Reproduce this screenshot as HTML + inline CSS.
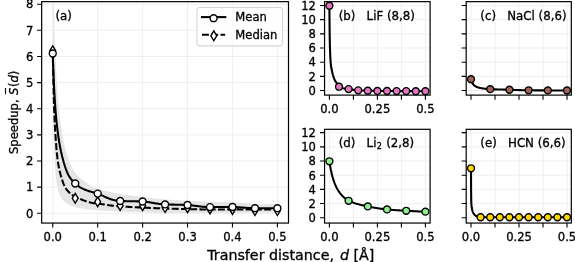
<!DOCTYPE html>
<html><head><meta charset="utf-8"><title>Speedup vs transfer distance</title>
<style>html,body{margin:0;padding:0;background:#fff}svg{display:block}</style></head>
<body>
<svg width="575" height="262" viewBox="0 0 575 262" font-family="'DejaVu Sans', 'Liberation Sans', sans-serif" fill="#000" stroke="none">
<style>text{stroke:#000;stroke-width:0.3px;paint-order:stroke}</style>
<rect width="575" height="262" fill="#fff"/>
<clipPath id="ca"><rect x="41.65" y="1.65" width="246.85" height="221.40"/></clipPath>
<g clip-path="url(#ca)">
<path d="M52.75 -48.10 L53.13 -25.98 L53.51 -7.31 L53.89 8.66 L54.27 22.47 L54.65 34.53 L55.03 45.16 L55.42 54.60 L55.80 63.03 L56.18 70.62 L56.56 77.47 L56.94 83.70 L57.32 89.38 L57.70 94.58 L58.08 99.36 L58.46 103.78 L58.84 107.86 L59.22 111.65 L59.60 115.18 L59.98 118.47 L60.37 121.55 L60.75 124.43 L61.13 127.14 L61.51 129.69 L61.89 132.09 L62.27 134.35 L62.65 136.50 L63.03 138.53 L63.41 140.46 L63.79 142.29 L64.17 144.03 L64.55 145.68 L64.93 147.26 L65.32 148.77 L65.70 150.21 L66.08 151.59 L66.46 152.90 L66.84 154.17 L67.22 155.38 L67.60 156.54 L67.98 157.66 L68.36 158.73 L68.74 159.76 L69.12 160.76 L69.50 161.72 L69.88 162.64 L70.27 163.53 L70.65 164.39 L71.03 165.23 L71.41 166.03 L71.79 166.81 L72.17 167.56 L72.55 168.29 L72.93 168.99 L73.31 169.68 L73.69 170.34 L74.07 170.98 L74.45 171.61 L74.83 172.21 L75.22 172.80 L76.90 174.60 L78.58 176.30 L80.27 177.90 L81.95 179.39 L83.64 180.78 L85.32 182.07 L87.01 183.27 L88.69 184.37 L90.38 185.38 L92.06 186.29 L93.75 187.12 L95.43 187.85 L97.12 188.50 L98.80 189.08 L100.49 189.60 L102.17 190.09 L103.86 190.54 L105.54 190.95 L107.23 191.34 L108.91 191.71 L110.60 192.05 L112.28 192.37 L113.97 192.69 L115.65 192.99 L117.34 193.30 L119.02 193.60 L120.71 193.90 L122.39 194.20 L124.08 194.49 L125.76 194.78 L127.45 195.06 L129.13 195.33 L130.82 195.59 L132.50 195.84 L134.19 196.09 L135.87 196.33 L137.56 196.56 L139.24 196.78 L140.93 197.00 L142.61 197.20 L144.29 197.40 L145.98 197.59 L147.66 197.78 L149.35 197.96 L151.03 198.14 L152.72 198.32 L154.40 198.48 L156.09 198.65 L157.77 198.80 L159.46 198.95 L161.14 199.09 L162.83 199.23 L164.51 199.36 L166.20 199.48 L167.88 199.60 L169.57 199.71 L171.25 199.81 L172.94 199.91 L174.62 200.01 L176.31 200.11 L177.99 200.20 L179.68 200.29 L181.36 200.38 L183.05 200.46 L184.73 200.55 L186.42 200.64 L188.10 200.73 L189.79 200.82 L191.47 200.91 L193.16 201.00 L194.84 201.09 L196.53 201.18 L198.21 201.26 L199.90 201.35 L201.58 201.43 L203.27 201.51 L204.95 201.59 L206.64 201.66 L208.32 201.73 L210.01 201.80 L211.69 201.86 L213.37 201.92 L215.06 201.97 L216.74 202.03 L218.43 202.07 L220.11 202.12 L221.80 202.17 L223.48 202.22 L225.17 202.27 L226.85 202.31 L228.54 202.37 L230.22 202.42 L231.91 202.48 L233.59 202.54 L235.28 202.61 L236.96 202.68 L238.65 202.76 L240.33 202.83 L242.02 202.91 L243.70 202.99 L245.39 203.07 L247.07 203.15 L248.76 203.23 L250.44 203.31 L252.13 203.38 L253.81 203.45 L255.50 203.52 L257.18 203.59 L258.87 203.65 L260.55 203.72 L262.24 203.78 L263.92 203.84 L265.61 203.90 L267.29 203.96 L268.98 204.02 L270.66 204.08 L272.35 204.14 L274.03 204.19 L275.72 204.25 L277.40 204.30 L277.40 212.60 L275.72 212.62 L274.03 212.63 L272.35 212.65 L270.66 212.66 L268.98 212.68 L267.29 212.69 L265.61 212.71 L263.92 212.72 L262.24 212.74 L260.55 212.75 L258.87 212.77 L257.18 212.78 L255.50 212.80 L253.81 212.81 L252.13 212.83 L250.44 212.84 L248.76 212.86 L247.07 212.87 L245.39 212.89 L243.70 212.90 L242.02 212.92 L240.33 212.93 L238.65 212.95 L236.96 212.96 L235.28 212.98 L233.59 212.99 L231.91 213.01 L230.22 213.02 L228.54 213.04 L226.85 213.06 L225.17 213.08 L223.48 213.10 L221.80 213.12 L220.11 213.13 L218.43 213.15 L216.74 213.17 L215.06 213.18 L213.37 213.19 L211.69 213.19 L210.01 213.20 L208.32 213.20 L206.64 213.20 L204.95 213.20 L203.27 213.20 L201.58 213.20 L199.90 213.20 L198.21 213.20 L196.53 213.20 L194.84 213.20 L193.16 213.20 L191.47 213.20 L189.79 213.20 L188.10 213.20 L186.42 213.19 L184.73 213.19 L183.05 213.18 L181.36 213.18 L179.68 213.16 L177.99 213.15 L176.31 213.14 L174.62 213.12 L172.94 213.10 L171.25 213.08 L169.57 213.06 L167.88 213.04 L166.20 213.02 L164.51 212.99 L162.83 212.96 L161.14 212.92 L159.46 212.88 L157.77 212.83 L156.09 212.78 L154.40 212.72 L152.72 212.66 L151.03 212.60 L149.35 212.53 L147.66 212.47 L145.98 212.41 L144.29 212.35 L142.61 212.30 L140.93 212.25 L139.24 212.20 L137.56 212.15 L135.87 212.10 L134.19 212.06 L132.50 212.01 L130.82 211.96 L129.13 211.91 L127.45 211.86 L125.76 211.80 L124.08 211.75 L122.39 211.69 L120.71 211.62 L119.02 211.55 L117.34 211.48 L115.65 211.41 L113.97 211.33 L112.28 211.25 L110.60 211.16 L108.91 211.07 L107.23 210.97 L105.54 210.87 L103.86 210.76 L102.17 210.64 L100.49 210.52 L98.80 210.39 L97.12 210.25 L95.43 210.10 L93.75 209.94 L92.06 209.76 L90.38 209.56 L88.69 209.35 L87.01 209.13 L85.32 208.89 L83.64 208.63 L81.95 208.36 L80.27 208.07 L78.58 207.76 L76.90 207.44 L75.22 207.10 L74.83 207.00 L74.45 206.89 L74.07 206.78 L73.69 206.67 L73.31 206.55 L72.93 206.43 L72.55 206.30 L72.17 206.17 L71.79 206.04 L71.41 205.89 L71.03 205.75 L70.65 205.59 L70.27 205.44 L69.88 205.27 L69.50 205.10 L69.12 204.92 L68.74 204.73 L68.36 204.53 L67.98 204.32 L67.60 204.11 L67.22 203.88 L66.84 203.64 L66.46 203.39 L66.08 203.12 L65.70 202.85 L65.32 202.55 L64.93 202.24 L64.55 201.91 L64.17 201.56 L63.79 201.18 L63.41 200.78 L63.03 200.36 L62.65 199.90 L62.27 199.41 L61.89 198.89 L61.51 198.32 L61.13 197.71 L60.75 197.04 L60.37 196.32 L59.98 195.53 L59.60 194.66 L59.22 193.70 L58.84 192.63 L58.46 191.45 L58.08 190.12 L57.70 188.61 L57.32 186.90 L56.94 184.94 L56.56 182.66 L56.18 179.97 L55.80 176.78 L55.42 172.91 L55.03 168.11 L54.65 162.03 L54.27 154.05 L53.89 143.14 L53.51 127.30 L53.13 102.21 L52.75 56.46 Z" fill="#e5e5e5" stroke="none"/>
<path d="M52.75 1.65 V223.05 M97.68 1.65 V223.05 M142.61 1.65 V223.05 M187.54 1.65 V223.05 M232.47 1.65 V223.05 M277.40 1.65 V223.05 M41.65 213.30 H288.5 M41.65 187.16 H288.5 M41.65 161.02 H288.5 M41.65 134.88 H288.5 M41.65 108.74 H288.5 M41.65 82.60 H288.5 M41.65 56.46 H288.5 M41.65 30.32 H288.5 M41.65 4.18 H288.5"  stroke="#efefef" stroke-width="1.0" fill="none"/>
<path d="M52.75 50.75 L52.89 58.22 L53.02 65.16 L53.16 71.63 L53.29 77.67 L53.43 83.32 L53.56 88.61 L53.70 93.60 L53.83 98.37 L53.97 102.88 L54.10 107.11 L54.24 111.04 L54.38 114.66 L54.51 117.98 L54.65 121.01 L54.78 123.77 L54.92 126.33 L55.05 128.72 L55.19 130.97 L55.32 133.10 L55.46 135.15 L55.59 137.12 L55.73 139.03 L55.87 140.90 L56.00 142.72 L56.14 144.49 L56.27 146.20 L56.41 147.84 L56.54 149.43 L56.68 150.95 L56.81 152.40 L56.95 153.78 L57.08 155.10 L57.22 156.36 L57.36 157.54 L57.49 158.67 L57.63 159.73 L57.76 160.73 L57.90 161.68 L58.03 162.57 L58.17 163.42 L58.30 164.24 L58.44 165.02 L58.58 165.77 L58.71 166.48 L58.85 167.17 L58.98 167.84 L59.12 168.49 L59.25 169.11 L59.39 169.72 L59.52 170.31 L59.66 170.88 L59.79 171.44 L59.93 171.99 L60.07 172.53 L60.20 173.05 L60.34 173.57 L60.47 174.08 L60.61 174.58 L60.74 175.08 L60.88 175.56 L61.01 176.05 L61.15 176.53 L61.28 177.00 L61.42 177.46 L61.56 177.92 L61.69 178.37 L61.83 178.82 L61.96 179.25 L62.10 179.68 L62.23 180.10 L62.37 180.52 L62.50 180.92 L62.64 181.32 L62.77 181.71 L62.91 182.09 L63.05 182.46 L63.18 182.82 L63.32 183.18 L63.45 183.53 L63.59 183.87 L63.72 184.20 L63.86 184.52 L63.99 184.83 L64.13 185.14 L64.26 185.44 L64.40 185.73 L64.54 186.02 L64.67 186.29 L64.81 186.56 L64.94 186.82 L65.08 187.07 L65.21 187.32 L65.35 187.56 L65.48 187.79 L65.62 188.01 L65.75 188.23 L65.89 188.44 L66.03 188.65 L66.16 188.85 L66.30 189.04 L66.43 189.24 L66.57 189.42 L66.70 189.61 L66.84 189.79 L66.97 189.96 L67.11 190.14 L67.25 190.31 L67.38 190.47 L67.52 190.64 L67.65 190.80 L67.79 190.95 L67.92 191.11 L68.06 191.26 L68.19 191.41 L68.33 191.55 L68.46 191.70 L68.60 191.84 L68.74 191.98 L68.87 192.11 L69.01 192.25 L69.14 192.38 L69.28 192.51 L69.41 192.64 L69.55 192.77 L69.68 192.89 L69.82 193.01 L69.95 193.13 L70.09 193.25 L70.23 193.37 L70.36 193.49 L70.50 193.60 L70.63 193.72 L70.77 193.83 L70.90 193.94 L71.04 194.05 L71.17 194.16 L71.31 194.27 L71.44 194.37 L71.58 194.47 L71.72 194.58 L71.85 194.68 L71.99 194.78 L72.12 194.88 L72.26 194.97 L72.39 195.07 L72.53 195.16 L72.66 195.26 L72.80 195.35 L72.93 195.44 L73.07 195.53 L73.21 195.62 L73.34 195.70 L73.48 195.79 L73.61 195.88 L73.75 195.96 L73.88 196.04 L74.02 196.12 L74.15 196.21 L74.29 196.29 L74.42 196.36 L74.56 196.44 L74.70 196.52 L74.83 196.60 L74.97 196.67 L75.10 196.75 L75.24 196.82 L75.37 196.89 L75.51 196.96 L75.64 197.03 L75.78 197.10 L75.91 197.17 L76.05 197.24 L76.19 197.31 L76.32 197.37 L76.46 197.44 L76.59 197.50 L76.73 197.56 L76.86 197.62 L77.00 197.69 L77.13 197.75 L77.27 197.81 L77.41 197.87 L77.54 197.93 L77.68 197.98 L77.81 198.04 L77.95 198.10 L78.08 198.16 L78.22 198.21 L78.35 198.27 L78.49 198.32 L78.62 198.38 L78.76 198.44 L78.90 198.49 L79.03 198.54 L79.17 198.60 L79.30 198.65 L79.44 198.71 L79.57 198.76 L79.71 198.81 L80.20 199.01 L80.70 199.20 L81.19 199.39 L81.69 199.58 L82.19 199.77 L82.68 199.97 L83.18 200.16 L83.67 200.35 L84.17 200.55 L84.66 200.73 L85.16 200.92 L85.65 201.10 L86.15 201.27 L86.64 201.44 L87.14 201.61 L87.64 201.76 L88.13 201.91 L88.63 202.06 L89.12 202.20 L89.62 202.35 L90.11 202.49 L90.61 202.62 L91.10 202.74 L91.60 202.85 L92.09 202.95 L92.59 203.03 L93.09 203.10 L93.58 203.16 L94.08 203.22 L94.57 203.27 L95.07 203.32 L95.56 203.37 L96.06 203.42 L96.55 203.47 L97.05 203.52 L97.54 203.58 L98.04 203.64 L98.54 203.71 L99.03 203.77 L99.53 203.83 L100.02 203.90 L100.52 203.97 L101.01 204.04 L101.51 204.10 L102.00 204.17 L102.50 204.24 L103.00 204.31 L103.49 204.38 L103.99 204.46 L104.48 204.53 L104.98 204.61 L105.47 204.69 L105.97 204.77 L106.46 204.86 L106.96 204.94 L107.45 205.02 L107.95 205.10 L108.45 205.17 L108.94 205.25 L109.44 205.32 L109.93 205.38 L110.43 205.44 L110.92 205.50 L111.42 205.56 L111.91 205.61 L112.41 205.66 L112.90 205.71 L113.40 205.76 L113.90 205.80 L114.39 205.85 L114.89 205.89 L115.38 205.93 L115.88 205.97 L116.37 206.01 L116.87 206.05 L117.36 206.09 L117.86 206.13 L118.35 206.17 L118.85 206.21 L119.35 206.24 L119.84 206.28 L120.34 206.32 L120.83 206.35 L121.33 206.39 L121.82 206.43 L122.32 206.46 L122.81 206.50 L123.31 206.53 L123.80 206.56 L124.30 206.60 L124.80 206.63 L125.29 206.66 L125.79 206.69 L126.28 206.72 L126.78 206.76 L127.27 206.79 L127.77 206.82 L128.26 206.85 L128.76 206.88 L129.25 206.91 L129.75 206.93 L130.25 206.96 L130.74 206.99 L131.24 207.02 L131.73 207.05 L132.23 207.08 L132.72 207.10 L133.22 207.13 L133.71 207.16 L134.21 207.18 L134.71 207.21 L135.20 207.24 L135.70 207.26 L136.19 207.29 L136.69 207.31 L137.18 207.34 L137.68 207.36 L138.17 207.39 L138.67 207.41 L139.16 207.44 L139.66 207.46 L140.16 207.48 L140.65 207.51 L141.15 207.53 L141.64 207.55 L142.14 207.58 L142.63 207.60 L143.13 207.62 L143.62 207.65 L144.12 207.67 L144.61 207.69 L145.11 207.72 L145.61 207.74 L146.10 207.76 L146.60 207.78 L147.09 207.81 L147.59 207.83 L148.08 207.85 L148.58 207.87 L149.07 207.89 L149.57 207.91 L150.06 207.94 L150.56 207.96 L151.06 207.98 L151.55 208.00 L152.05 208.02 L152.54 208.04 L153.04 208.06 L153.53 208.08 L154.03 208.10 L154.52 208.12 L155.02 208.14 L155.51 208.16 L156.01 208.18 L156.51 208.20 L157.00 208.22 L157.50 208.23 L157.99 208.25 L158.49 208.27 L158.98 208.29 L159.48 208.31 L159.97 208.33 L160.47 208.34 L160.96 208.36 L161.46 208.38 L161.96 208.40 L162.45 208.41 L162.95 208.43 L163.44 208.45 L163.94 208.46 L164.43 208.48 L164.93 208.49 L165.42 208.51 L165.92 208.53 L166.42 208.54 L166.91 208.56 L167.41 208.57 L167.90 208.59 L168.40 208.60 L168.89 208.62 L169.39 208.63 L169.88 208.65 L170.38 208.66 L170.87 208.68 L171.37 208.69 L171.87 208.71 L172.36 208.72 L172.86 208.73 L173.35 208.75 L173.85 208.76 L174.34 208.78 L174.84 208.79 L175.33 208.80 L175.83 208.82 L176.32 208.83 L176.82 208.84 L177.32 208.86 L177.81 208.87 L178.31 208.88 L178.80 208.90 L179.30 208.91 L179.79 208.92 L180.29 208.93 L180.78 208.95 L181.28 208.96 L181.77 208.97 L182.27 208.98 L182.77 208.99 L183.26 209.01 L183.76 209.02 L184.25 209.03 L184.75 209.04 L185.24 209.05 L185.74 209.06 L186.23 209.07 L186.73 209.08 L187.22 209.09 L187.72 209.10 L188.22 209.12 L188.71 209.13 L189.21 209.14 L189.70 209.15 L190.20 209.16 L190.69 209.17 L191.19 209.19 L191.68 209.20 L192.18 209.21 L192.67 209.22 L193.17 209.23 L193.67 209.25 L194.16 209.26 L194.66 209.27 L195.15 209.28 L195.65 209.29 L196.14 209.31 L196.64 209.32 L197.13 209.33 L197.63 209.34 L198.13 209.35 L198.62 209.36 L199.12 209.37 L199.61 209.38 L200.11 209.39 L200.60 209.40 L201.10 209.41 L201.59 209.42 L202.09 209.43 L202.58 209.44 L203.08 209.44 L203.58 209.45 L204.07 209.46 L204.57 209.46 L205.06 209.47 L205.56 209.48 L206.05 209.48 L206.55 209.48 L207.04 209.49 L207.54 209.49 L208.03 209.49 L208.53 209.50 L209.03 209.50 L209.52 209.50 L210.02 209.50 L210.51 209.50 L211.01 209.50 L211.50 209.50 L212.00 209.50 L212.49 209.50 L212.99 209.50 L213.48 209.49 L213.98 209.49 L214.48 209.49 L214.97 209.49 L215.47 209.49 L215.96 209.48 L216.46 209.48 L216.95 209.48 L217.45 209.47 L217.94 209.47 L218.44 209.47 L218.93 209.47 L219.43 209.46 L219.93 209.46 L220.42 209.46 L220.92 209.45 L221.41 209.45 L221.91 209.45 L222.40 209.44 L222.90 209.44 L223.39 209.44 L223.89 209.43 L224.38 209.43 L224.88 209.43 L225.38 209.42 L225.87 209.42 L226.37 209.42 L226.86 209.42 L227.36 209.41 L227.85 209.41 L228.35 209.41 L228.84 209.41 L229.34 209.41 L229.84 209.40 L230.33 209.40 L230.83 209.40 L231.32 209.40 L231.82 209.40 L232.31 209.40 L232.81 209.40 L233.30 209.40 L233.80 209.40 L234.29 209.40 L234.79 209.40 L235.29 209.40 L235.78 209.40 L236.28 209.41 L236.77 209.41 L237.27 209.41 L237.76 209.41 L238.26 209.41 L238.75 209.41 L239.25 209.42 L239.74 209.42 L240.24 209.42 L240.74 209.42 L241.23 209.42 L241.73 209.43 L242.22 209.43 L242.72 209.43 L243.21 209.44 L243.71 209.44 L244.20 209.44 L244.70 209.44 L245.19 209.45 L245.69 209.45 L246.19 209.45 L246.68 209.46 L247.18 209.46 L247.67 209.46 L248.17 209.46 L248.66 209.47 L249.16 209.47 L249.65 209.47 L250.15 209.48 L250.64 209.48 L251.14 209.48 L251.64 209.48 L252.13 209.49 L252.63 209.49 L253.12 209.49 L253.62 209.49 L254.11 209.50 L254.61 209.50 L255.10 209.50 L255.60 209.50 L256.09 209.51 L256.59 209.51 L257.09 209.51 L257.58 209.51 L258.08 209.51 L258.57 209.52 L259.07 209.52 L259.56 209.52 L260.06 209.52 L260.55 209.53 L261.05 209.53 L261.55 209.53 L262.04 209.53 L262.54 209.53 L263.03 209.54 L263.53 209.54 L264.02 209.54 L264.52 209.54 L265.01 209.55 L265.51 209.55 L266.00 209.55 L266.50 209.55 L267.00 209.55 L267.49 209.56 L267.99 209.56 L268.48 209.56 L268.98 209.56 L269.47 209.56 L269.97 209.57 L270.46 209.57 L270.96 209.57 L271.45 209.57 L271.95 209.58 L272.45 209.58 L272.94 209.58 L273.44 209.58 L273.93 209.58 L274.43 209.59 L274.92 209.59 L275.42 209.59 L275.91 209.59 L276.41 209.60 L276.90 209.60 L277.40 209.60" fill="none" stroke="#000" stroke-width="2.08" stroke-dasharray="6.9 2.35"/>
<path d="M52.75 53.50 L52.89 57.88 L53.02 62.01 L53.16 65.91 L53.29 69.60 L53.43 73.10 L53.56 76.41 L53.70 79.55 L53.83 82.54 L53.97 85.37 L54.10 88.08 L54.24 90.66 L54.38 93.12 L54.51 95.48 L54.65 97.74 L54.78 99.90 L54.92 101.98 L55.05 103.98 L55.19 105.90 L55.32 107.74 L55.46 109.52 L55.59 111.23 L55.73 112.88 L55.87 114.48 L56.00 116.01 L56.14 117.49 L56.27 118.92 L56.41 120.29 L56.54 121.61 L56.68 122.90 L56.81 124.14 L56.95 125.35 L57.08 126.54 L57.22 127.69 L57.36 128.82 L57.49 129.93 L57.63 131.02 L57.76 132.08 L57.90 133.12 L58.03 134.13 L58.17 135.12 L58.30 136.09 L58.44 137.03 L58.58 137.96 L58.71 138.86 L58.85 139.75 L58.98 140.61 L59.12 141.46 L59.25 142.29 L59.39 143.09 L59.52 143.89 L59.66 144.66 L59.79 145.42 L59.93 146.16 L60.07 146.89 L60.20 147.60 L60.34 148.29 L60.47 148.96 L60.61 149.63 L60.74 150.28 L60.88 150.91 L61.01 151.54 L61.15 152.15 L61.28 152.75 L61.42 153.34 L61.56 153.92 L61.69 154.49 L61.83 155.05 L61.96 155.60 L62.10 156.14 L62.23 156.68 L62.37 157.20 L62.50 157.72 L62.64 158.24 L62.77 158.74 L62.91 159.24 L63.05 159.74 L63.18 160.22 L63.32 160.71 L63.45 161.18 L63.59 161.66 L63.72 162.13 L63.86 162.59 L63.99 163.06 L64.13 163.51 L64.26 163.97 L64.40 164.42 L64.54 164.86 L64.67 165.30 L64.81 165.73 L64.94 166.16 L65.08 166.58 L65.21 167.00 L65.35 167.41 L65.48 167.82 L65.62 168.21 L65.75 168.60 L65.89 168.99 L66.03 169.37 L66.16 169.74 L66.30 170.11 L66.43 170.46 L66.57 170.82 L66.70 171.16 L66.84 171.50 L66.97 171.83 L67.11 172.16 L67.25 172.48 L67.38 172.79 L67.52 173.09 L67.65 173.39 L67.79 173.68 L67.92 173.97 L68.06 174.25 L68.19 174.52 L68.33 174.78 L68.46 175.04 L68.60 175.29 L68.74 175.54 L68.87 175.78 L69.01 176.01 L69.14 176.24 L69.28 176.46 L69.41 176.68 L69.55 176.89 L69.68 177.10 L69.82 177.31 L69.95 177.51 L70.09 177.71 L70.23 177.91 L70.36 178.10 L70.50 178.29 L70.63 178.48 L70.77 178.66 L70.90 178.84 L71.04 179.02 L71.17 179.20 L71.31 179.37 L71.44 179.54 L71.58 179.71 L71.72 179.87 L71.85 180.04 L71.99 180.20 L72.12 180.36 L72.26 180.51 L72.39 180.67 L72.53 180.82 L72.66 180.97 L72.80 181.12 L72.93 181.26 L73.07 181.41 L73.21 181.55 L73.34 181.69 L73.48 181.83 L73.61 181.97 L73.75 182.11 L73.88 182.25 L74.02 182.38 L74.15 182.51 L74.29 182.65 L74.42 182.78 L74.56 182.91 L74.70 183.03 L74.83 183.16 L74.97 183.29 L75.10 183.41 L75.24 183.53 L75.37 183.66 L75.51 183.78 L75.64 183.90 L75.78 184.02 L75.91 184.14 L76.05 184.26 L76.19 184.37 L76.32 184.49 L76.46 184.60 L76.59 184.72 L76.73 184.83 L76.86 184.94 L77.00 185.05 L77.13 185.16 L77.27 185.27 L77.41 185.37 L77.54 185.48 L77.68 185.58 L77.81 185.69 L77.95 185.79 L78.08 185.89 L78.22 185.99 L78.35 186.09 L78.49 186.18 L78.62 186.28 L78.76 186.37 L78.90 186.47 L79.03 186.56 L79.17 186.65 L79.30 186.74 L79.44 186.83 L79.57 186.92 L79.71 187.01 L80.20 187.31 L80.70 187.60 L81.19 187.87 L81.69 188.14 L82.19 188.39 L82.68 188.63 L83.18 188.87 L83.67 189.09 L84.17 189.31 L84.66 189.52 L85.16 189.72 L85.65 189.92 L86.15 190.12 L86.64 190.30 L87.14 190.49 L87.64 190.67 L88.13 190.85 L88.63 191.02 L89.12 191.18 L89.62 191.33 L90.11 191.47 L90.61 191.62 L91.10 191.75 L91.60 191.89 L92.09 192.02 L92.59 192.15 L93.09 192.28 L93.58 192.41 L94.08 192.54 L94.57 192.68 L95.07 192.81 L95.56 192.95 L96.06 193.09 L96.55 193.24 L97.05 193.39 L97.54 193.55 L98.04 193.71 L98.54 193.89 L99.03 194.08 L99.53 194.29 L100.02 194.50 L100.52 194.72 L101.01 194.94 L101.51 195.17 L102.00 195.41 L102.50 195.64 L103.00 195.88 L103.49 196.11 L103.99 196.35 L104.48 196.58 L104.98 196.82 L105.47 197.05 L105.97 197.27 L106.46 197.49 L106.96 197.71 L107.45 197.92 L107.95 198.12 L108.45 198.32 L108.94 198.52 L109.44 198.71 L109.93 198.89 L110.43 199.06 L110.92 199.23 L111.42 199.39 L111.91 199.54 L112.41 199.69 L112.90 199.83 L113.40 199.96 L113.90 200.09 L114.39 200.20 L114.89 200.31 L115.38 200.42 L115.88 200.51 L116.37 200.60 L116.87 200.68 L117.36 200.75 L117.86 200.81 L118.35 200.87 L118.85 200.92 L119.35 200.96 L119.84 200.99 L120.34 201.01 L120.83 201.03 L121.33 201.05 L121.82 201.06 L122.32 201.08 L122.81 201.09 L123.31 201.11 L123.80 201.12 L124.30 201.13 L124.80 201.15 L125.29 201.16 L125.79 201.17 L126.28 201.18 L126.78 201.19 L127.27 201.20 L127.77 201.20 L128.26 201.21 L128.76 201.22 L129.25 201.23 L129.75 201.23 L130.25 201.24 L130.74 201.25 L131.24 201.25 L131.73 201.26 L132.23 201.27 L132.72 201.27 L133.22 201.28 L133.71 201.29 L134.21 201.30 L134.71 201.30 L135.20 201.31 L135.70 201.32 L136.19 201.33 L136.69 201.34 L137.18 201.35 L137.68 201.36 L138.17 201.37 L138.67 201.38 L139.16 201.39 L139.66 201.40 L140.16 201.42 L140.65 201.43 L141.15 201.45 L141.64 201.47 L142.14 201.48 L142.63 201.50 L143.13 201.52 L143.62 201.55 L144.12 201.59 L144.61 201.64 L145.11 201.69 L145.61 201.74 L146.10 201.80 L146.60 201.87 L147.09 201.93 L147.59 202.01 L148.08 202.08 L148.58 202.16 L149.07 202.24 L149.57 202.33 L150.06 202.41 L150.56 202.50 L151.06 202.58 L151.55 202.67 L152.05 202.76 L152.54 202.84 L153.04 202.93 L153.53 203.02 L154.03 203.10 L154.52 203.19 L155.02 203.27 L155.51 203.35 L156.01 203.43 L156.51 203.50 L157.00 203.58 L157.50 203.65 L157.99 203.72 L158.49 203.79 L158.98 203.86 L159.48 203.92 L159.97 203.98 L160.47 204.03 L160.96 204.09 L161.46 204.14 L161.96 204.19 L162.45 204.23 L162.95 204.27 L163.44 204.31 L163.94 204.34 L164.43 204.37 L164.93 204.39 L165.42 204.42 L165.92 204.44 L166.42 204.46 L166.91 204.47 L167.41 204.49 L167.90 204.51 L168.40 204.52 L168.89 204.54 L169.39 204.55 L169.88 204.57 L170.38 204.58 L170.87 204.59 L171.37 204.60 L171.87 204.61 L172.36 204.62 L172.86 204.63 L173.35 204.64 L173.85 204.65 L174.34 204.66 L174.84 204.67 L175.33 204.68 L175.83 204.69 L176.32 204.70 L176.82 204.71 L177.32 204.72 L177.81 204.73 L178.31 204.74 L178.80 204.75 L179.30 204.76 L179.79 204.77 L180.29 204.78 L180.78 204.79 L181.28 204.80 L181.77 204.81 L182.27 204.83 L182.77 204.84 L183.26 204.85 L183.76 204.87 L184.25 204.88 L184.75 204.90 L185.24 204.91 L185.74 204.93 L186.23 204.95 L186.73 204.97 L187.22 204.99 L187.72 205.01 L188.22 205.03 L188.71 205.07 L189.21 205.10 L189.70 205.14 L190.20 205.19 L190.69 205.24 L191.19 205.29 L191.68 205.35 L192.18 205.41 L192.67 205.47 L193.17 205.54 L193.67 205.60 L194.16 205.67 L194.66 205.73 L195.15 205.80 L195.65 205.87 L196.14 205.94 L196.64 206.01 L197.13 206.07 L197.63 206.14 L198.13 206.20 L198.62 206.27 L199.12 206.33 L199.61 206.39 L200.11 206.45 L200.60 206.51 L201.10 206.56 L201.59 206.62 L202.09 206.67 L202.58 206.72 L203.08 206.76 L203.58 206.81 L204.07 206.85 L204.57 206.88 L205.06 206.92 L205.56 206.95 L206.05 206.98 L206.55 207.01 L207.04 207.03 L207.54 207.05 L208.03 207.07 L208.53 207.08 L209.03 207.09 L209.52 207.10 L210.02 207.10 L210.51 207.10 L211.01 207.10 L211.50 207.10 L212.00 207.10 L212.49 207.10 L212.99 207.10 L213.48 207.09 L213.98 207.09 L214.48 207.09 L214.97 207.09 L215.47 207.09 L215.96 207.08 L216.46 207.08 L216.95 207.08 L217.45 207.07 L217.94 207.07 L218.44 207.07 L218.93 207.07 L219.43 207.06 L219.93 207.06 L220.42 207.06 L220.92 207.05 L221.41 207.05 L221.91 207.05 L222.40 207.04 L222.90 207.04 L223.39 207.04 L223.89 207.03 L224.38 207.03 L224.88 207.03 L225.38 207.02 L225.87 207.02 L226.37 207.02 L226.86 207.02 L227.36 207.01 L227.85 207.01 L228.35 207.01 L228.84 207.01 L229.34 207.01 L229.84 207.00 L230.33 207.00 L230.83 207.00 L231.32 207.00 L231.82 207.00 L232.31 207.00 L232.81 207.00 L233.30 207.01 L233.80 207.01 L234.29 207.03 L234.79 207.04 L235.29 207.06 L235.78 207.09 L236.28 207.11 L236.77 207.14 L237.27 207.17 L237.76 207.20 L238.26 207.24 L238.75 207.27 L239.25 207.31 L239.74 207.35 L240.24 207.38 L240.74 207.42 L241.23 207.46 L241.73 207.50 L242.22 207.54 L242.72 207.58 L243.21 207.62 L243.71 207.66 L244.20 207.70 L244.70 207.74 L245.19 207.78 L245.69 207.81 L246.19 207.85 L246.68 207.88 L247.18 207.92 L247.67 207.95 L248.17 207.98 L248.66 208.01 L249.16 208.04 L249.65 208.06 L250.15 208.08 L250.64 208.11 L251.14 208.13 L251.64 208.14 L252.13 208.16 L252.63 208.17 L253.12 208.18 L253.62 208.19 L254.11 208.20 L254.61 208.20 L255.10 208.20 L255.60 208.20 L256.09 208.20 L256.59 208.20 L257.09 208.20 L257.58 208.20 L258.08 208.20 L258.57 208.20 L259.07 208.20 L259.56 208.20 L260.06 208.20 L260.55 208.20 L261.05 208.20 L261.55 208.20 L262.04 208.20 L262.54 208.20 L263.03 208.20 L263.53 208.20 L264.02 208.20 L264.52 208.20 L265.01 208.20 L265.51 208.20 L266.00 208.20 L266.50 208.20 L267.00 208.20 L267.49 208.20 L267.99 208.20 L268.48 208.20 L268.98 208.20 L269.47 208.20 L269.97 208.20 L270.46 208.20 L270.96 208.20 L271.45 208.20 L271.95 208.20 L272.45 208.20 L272.94 208.20 L273.44 208.20 L273.93 208.20 L274.43 208.20 L274.92 208.20 L275.42 208.20 L275.91 208.20 L276.41 208.20 L276.90 208.20 L277.40 208.20" fill="none" stroke="#000" stroke-width="2.08" stroke-linecap="square"/>
<path d="M52.75 45.84 L55.70 50.75 L52.75 55.66 L49.80 50.75 Z" fill="#fff" stroke="#000" stroke-width="1.39" stroke-linejoin="miter"/>
<path d="M75.22 193.39 L78.17 198.30 L75.22 203.21 L72.27 198.30 Z" fill="#fff" stroke="#000" stroke-width="1.39" stroke-linejoin="miter"/>
<path d="M97.68 196.89 L100.63 201.80 L97.68 206.71 L94.73 201.80 Z" fill="#fff" stroke="#000" stroke-width="1.39" stroke-linejoin="miter"/>
<path d="M120.15 200.59 L123.10 205.50 L120.15 210.41 L117.20 205.50 Z" fill="#fff" stroke="#000" stroke-width="1.39" stroke-linejoin="miter"/>
<path d="M142.61 200.79 L145.56 205.70 L142.61 210.61 L139.66 205.70 Z" fill="#fff" stroke="#000" stroke-width="1.39" stroke-linejoin="miter"/>
<path d="M165.07 202.69 L168.02 207.60 L165.07 212.51 L162.12 207.60 Z" fill="#fff" stroke="#000" stroke-width="1.39" stroke-linejoin="miter"/>
<path d="M187.54 202.89 L190.49 207.80 L187.54 212.71 L184.59 207.80 Z" fill="#fff" stroke="#000" stroke-width="1.39" stroke-linejoin="miter"/>
<path d="M210.01 203.99 L212.96 208.90 L210.01 213.81 L207.06 208.90 Z" fill="#fff" stroke="#000" stroke-width="1.39" stroke-linejoin="miter"/>
<path d="M232.47 204.49 L235.42 209.40 L232.47 214.31 L229.52 209.40 Z" fill="#fff" stroke="#000" stroke-width="1.39" stroke-linejoin="miter"/>
<path d="M254.94 205.69 L257.88 210.60 L254.94 215.51 L251.99 210.60 Z" fill="#fff" stroke="#000" stroke-width="1.39" stroke-linejoin="miter"/>
<path d="M277.40 205.69 L280.35 210.60 L277.40 215.51 L274.45 210.60 Z" fill="#fff" stroke="#000" stroke-width="1.39" stroke-linejoin="miter"/>
<circle cx="52.75" cy="53.50" r="3.47" fill="#fff" stroke="#000" stroke-width="1.39"/>
<circle cx="75.22" cy="183.50" r="3.47" fill="#fff" stroke="#000" stroke-width="1.39"/>
<circle cx="97.68" cy="193.60" r="3.47" fill="#fff" stroke="#000" stroke-width="1.39"/>
<circle cx="120.15" cy="201.00" r="3.47" fill="#fff" stroke="#000" stroke-width="1.39"/>
<circle cx="142.61" cy="201.50" r="3.47" fill="#fff" stroke="#000" stroke-width="1.39"/>
<circle cx="165.07" cy="204.40" r="3.47" fill="#fff" stroke="#000" stroke-width="1.39"/>
<circle cx="187.54" cy="205.00" r="3.47" fill="#fff" stroke="#000" stroke-width="1.39"/>
<circle cx="210.01" cy="207.10" r="3.47" fill="#fff" stroke="#000" stroke-width="1.39"/>
<circle cx="232.47" cy="207.00" r="3.47" fill="#fff" stroke="#000" stroke-width="1.39"/>
<circle cx="254.94" cy="208.20" r="3.47" fill="#fff" stroke="#000" stroke-width="1.39"/>
<circle cx="277.40" cy="208.20" r="3.47" fill="#fff" stroke="#000" stroke-width="1.39"/>
</g>
<path d="M52.75 223.05 v4.55 M97.68 223.05 v4.55 M142.61 223.05 v4.55 M187.54 223.05 v4.55 M232.47 223.05 v4.55 M277.40 223.05 v4.55 M41.65 213.30 h-4.55 M41.65 187.16 h-4.55 M41.65 161.02 h-4.55 M41.65 134.88 h-4.55 M41.65 108.74 h-4.55 M41.65 82.60 h-4.55 M41.65 56.46 h-4.55 M41.65 30.32 h-4.55 M41.65 4.18 h-4.55" stroke="#000" stroke-width="1.1" fill="none"/>
<rect x="41.65" y="1.65" width="246.85" height="221.40" fill="none" stroke="#000" stroke-width="1.2"/>
<text x="33.40" y="217.60" font-size="11.57" text-anchor="end" >0</text>
<text x="33.40" y="191.46" font-size="11.57" text-anchor="end" >1</text>
<text x="33.40" y="165.32" font-size="11.57" text-anchor="end" >2</text>
<text x="33.40" y="139.18" font-size="11.57" text-anchor="end" >3</text>
<text x="33.40" y="113.04" font-size="11.57" text-anchor="end" >4</text>
<text x="33.40" y="86.90" font-size="11.57" text-anchor="end" >5</text>
<text x="33.40" y="60.76" font-size="11.57" text-anchor="end" >6</text>
<text x="33.40" y="34.62" font-size="11.57" text-anchor="end" >7</text>
<text x="33.40" y="8.48" font-size="11.57" text-anchor="end" >8</text>
<text x="52.75" y="240.60" font-size="11.57" text-anchor="middle" >0.0</text>
<text x="97.68" y="240.60" font-size="11.57" text-anchor="middle" >0.1</text>
<text x="142.61" y="240.60" font-size="11.57" text-anchor="middle" >0.2</text>
<text x="187.54" y="240.60" font-size="11.57" text-anchor="middle" >0.3</text>
<text x="232.47" y="240.60" font-size="11.57" text-anchor="middle" >0.4</text>
<text x="277.40" y="240.60" font-size="11.57" text-anchor="middle" >0.5</text>
<text x="55.50" y="19.60" font-size="11.8" text-anchor="start" >(a)</text>
<rect x="197" y="7.5" width="85.6" height="38.4" rx="2.8" fill="#fff" fill-opacity="0.8" stroke="#cccccc" stroke-opacity="0.8" stroke-width="1.1"/>
<path d="M202 17.1 H225.3" stroke="#000" stroke-width="2.08" stroke-linecap="square"/>
<circle cx="213.60" cy="18.20" r="3.47" fill="#fff" stroke="#000" stroke-width="1.39"/>
<path d="M202 34.8 H225.1" stroke="#000" stroke-width="2.08" stroke-dasharray="6.9 2.35"/>
<path d="M213.80 30.89 L216.75 35.80 L213.80 40.71 L210.85 35.80 Z" fill="#fff" stroke="#000" stroke-width="1.39" stroke-linejoin="miter"/>
<text x="235.30" y="21.10" font-size="11.57" text-anchor="start" >Mean</text>
<text x="235.30" y="38.70" font-size="11.57" text-anchor="start" >Median</text>
<text transform="translate(18.2 154.0) rotate(-90)" font-size="11.57">Speedup, <tspan font-style="italic" dx="0.7">S</tspan><tspan dx="-6.24" dy="-3.2">&#x203e;</tspan><tspan dx="1.1" dy="3.2">(</tspan><tspan font-style="italic">d</tspan>)</text>
<text x="207.2" y="259.7" font-size="14.25">Transfer distance, <tspan font-style="italic" dx="1.5">d</tspan><tspan dx="0"> [&#xC5;]</tspan></text>
<clipPath id="cb"><rect x="324.55" y="1.65" width="105.55" height="93.45"/></clipPath>
<path d="M329.40 1.65 V95.1 M353.40 1.65 V95.1 M377.40 1.65 V95.1 M401.40 1.65 V95.1 M425.40 1.65 V95.1 M324.55 90.55 H430.1 M324.55 76.37 H430.1 M324.55 62.19 H430.1 M324.55 48.01 H430.1 M324.55 33.83 H430.1 M324.55 19.65 H430.1 M324.55 5.47 H430.1"  stroke="#efefef" stroke-width="1.0" fill="none"/>
<path d="M329.40 5.70 L329.51 19.67 L329.62 29.50 L329.72 36.78 L329.83 42.35 L329.94 46.73 L330.05 50.27 L330.16 53.26 L330.26 55.79 L330.37 57.95 L330.48 59.81 L330.59 61.40 L330.69 62.77 L330.80 63.95 L330.91 64.95 L331.02 65.83 L331.13 66.60 L331.23 67.28 L331.34 67.91 L331.45 68.49 L331.56 69.04 L331.67 69.57 L331.77 70.09 L331.88 70.60 L331.99 71.11 L332.10 71.61 L332.20 72.10 L332.31 72.56 L332.42 73.01 L332.53 73.45 L332.64 73.87 L332.74 74.27 L332.85 74.67 L332.96 75.05 L333.07 75.41 L333.18 75.77 L333.28 76.12 L333.39 76.46 L333.50 76.79 L333.61 77.11 L333.71 77.42 L333.82 77.72 L333.93 78.02 L334.04 78.31 L334.15 78.59 L334.25 78.86 L334.36 79.12 L334.47 79.38 L334.58 79.62 L334.69 79.86 L334.79 80.09 L334.90 80.31 L335.01 80.52 L335.12 80.72 L335.22 80.91 L335.33 81.09 L335.44 81.26 L335.55 81.42 L335.66 81.57 L335.76 81.72 L335.87 81.87 L335.98 82.02 L336.09 82.16 L336.20 82.30 L336.30 82.45 L336.41 82.60 L336.52 82.75 L336.63 82.90 L336.73 83.06 L336.84 83.22 L336.95 83.38 L337.06 83.55 L337.17 83.73 L337.27 83.91 L337.38 84.11 L337.49 84.31 L337.60 84.51 L337.71 84.71 L337.81 84.90 L337.92 85.10 L338.03 85.29 L338.14 85.47 L338.24 85.65 L338.35 85.82 L338.46 85.98 L338.57 86.14 L338.68 86.29 L338.78 86.43 L338.89 86.57 L339.00 86.70 L339.86 87.12 L340.73 87.47 L341.59 87.77 L342.46 88.02 L343.32 88.23 L344.18 88.40 L345.05 88.55 L345.91 88.69 L346.78 88.82 L347.64 88.95 L348.50 89.08 L349.37 89.23 L350.23 89.38 L351.10 89.52 L351.96 89.65 L352.82 89.78 L353.69 89.90 L354.55 90.01 L355.42 90.11 L356.28 90.20 L357.14 90.28 L358.01 90.34 L358.87 90.39 L359.74 90.43 L360.60 90.47 L361.46 90.51 L362.33 90.54 L363.19 90.57 L364.06 90.60 L364.92 90.62 L365.78 90.65 L366.65 90.67 L367.51 90.69 L368.38 90.72 L369.24 90.74 L370.10 90.76 L370.97 90.78 L371.83 90.80 L372.70 90.82 L373.56 90.83 L374.42 90.85 L375.29 90.87 L376.15 90.88 L377.02 90.89 L377.88 90.91 L378.74 90.92 L379.61 90.93 L380.47 90.94 L381.34 90.95 L382.20 90.95 L383.06 90.96 L383.93 90.97 L384.79 90.98 L385.66 90.99 L386.52 91.00 L387.38 91.00 L388.25 91.01 L389.11 91.03 L389.98 91.04 L390.84 91.05 L391.70 91.06 L392.57 91.07 L393.43 91.08 L394.30 91.09 L395.16 91.10 L396.02 91.10 L396.89 91.10 L397.75 91.10 L398.62 91.10 L399.48 91.10 L400.34 91.10 L401.21 91.10 L402.07 91.10 L402.94 91.10 L403.80 91.10 L404.66 91.10 L405.53 91.10 L406.39 91.10 L407.26 91.10 L408.12 91.11 L408.98 91.12 L409.85 91.13 L410.71 91.15 L411.58 91.16 L412.44 91.17 L413.30 91.18 L414.17 91.19 L415.03 91.20 L415.90 91.20 L416.76 91.20 L417.62 91.20 L418.49 91.20 L419.35 91.20 L420.22 91.20 L421.08 91.20 L421.94 91.20 L422.81 91.20 L423.67 91.20 L424.54 91.20 L425.40 91.20" fill="none" stroke="#000" stroke-width="2.08" stroke-linecap="square"/>
<circle cx="329.40" cy="5.70" r="3.47" fill="#e377c2" stroke="#000" stroke-width="1.39"/>
<circle cx="339.00" cy="86.70" r="3.47" fill="#e377c2" stroke="#000" stroke-width="1.39"/>
<circle cx="348.60" cy="89.10" r="3.47" fill="#e377c2" stroke="#000" stroke-width="1.39"/>
<circle cx="358.20" cy="90.35" r="3.47" fill="#e377c2" stroke="#000" stroke-width="1.39"/>
<circle cx="367.80" cy="90.70" r="3.47" fill="#e377c2" stroke="#000" stroke-width="1.39"/>
<circle cx="377.40" cy="90.90" r="3.47" fill="#e377c2" stroke="#000" stroke-width="1.39"/>
<circle cx="387.00" cy="91.00" r="3.47" fill="#e377c2" stroke="#000" stroke-width="1.39"/>
<circle cx="396.60" cy="91.10" r="3.47" fill="#e377c2" stroke="#000" stroke-width="1.39"/>
<circle cx="406.20" cy="91.10" r="3.47" fill="#e377c2" stroke="#000" stroke-width="1.39"/>
<circle cx="415.80" cy="91.20" r="3.47" fill="#e377c2" stroke="#000" stroke-width="1.39"/>
<circle cx="425.40" cy="91.20" r="3.47" fill="#e377c2" stroke="#000" stroke-width="1.39"/>
<path d="M329.40 95.1 v4.55 M353.40 95.1 v4.55 M377.40 95.1 v4.55 M401.40 95.1 v4.55 M425.40 95.1 v4.55 M324.55 90.55 h-4.55 M324.55 76.37 h-4.55 M324.55 62.19 h-4.55 M324.55 48.01 h-4.55 M324.55 33.83 h-4.55 M324.55 19.65 h-4.55 M324.55 5.47 h-4.55" stroke="#000" stroke-width="1.1" fill="none"/>
<rect x="324.55" y="1.65" width="105.55" height="93.45" fill="none" stroke="#000" stroke-width="1.2"/>
<text x="315.95" y="94.85" font-size="11.57" text-anchor="end" >0</text>
<text x="315.95" y="80.67" font-size="11.57" text-anchor="end" >2</text>
<text x="315.95" y="66.49" font-size="11.57" text-anchor="end" >4</text>
<text x="315.95" y="52.31" font-size="11.57" text-anchor="end" >6</text>
<text x="315.95" y="38.13" font-size="11.57" text-anchor="end" >8</text>
<text x="315.95" y="23.95" font-size="11.57" text-anchor="end" >10</text>
<text x="315.95" y="9.77" font-size="11.57" text-anchor="end" >12</text>
<text x="329.40" y="113.00" font-size="11.57" text-anchor="middle" >0.0</text>
<text x="377.40" y="113.00" font-size="11.57" text-anchor="middle" >0.25</text>
<text x="425.40" y="113.00" font-size="11.57" text-anchor="middle" >0.5</text>
<text x="338.65" y="19.75" font-size="11.8" text-anchor="start" style="white-space:pre">(b)   LiF (8,8)</text>
<clipPath id="cc"><rect x="466.2" y="1.65" width="105.10" height="93.45"/></clipPath>
<path d="M471.00 1.65 V95.1 M495.00 1.65 V95.1 M519.00 1.65 V95.1 M543.00 1.65 V95.1 M567.00 1.65 V95.1 M466.2 90.55 H571.3 M466.2 76.37 H571.3 M466.2 62.19 H571.3 M466.2 48.01 H571.3 M466.2 33.83 H571.3 M466.2 19.65 H571.3 M466.2 5.47 H571.3"  stroke="#efefef" stroke-width="1.0" fill="none"/>
<path d="M471.00 79.20 L471.22 80.04 L471.43 80.76 L471.65 81.39 L471.86 81.95 L472.08 82.44 L472.29 82.88 L472.51 83.27 L472.73 83.62 L472.94 83.95 L473.16 84.24 L473.37 84.51 L473.59 84.75 L473.80 84.98 L474.02 85.19 L474.24 85.39 L474.45 85.57 L474.67 85.74 L474.88 85.89 L475.10 86.04 L475.31 86.18 L475.53 86.31 L475.75 86.43 L475.96 86.55 L476.18 86.66 L476.39 86.76 L476.61 86.86 L476.82 86.95 L477.04 87.04 L477.26 87.13 L477.47 87.21 L477.69 87.28 L477.90 87.36 L478.12 87.43 L478.33 87.49 L478.55 87.56 L478.77 87.62 L478.98 87.68 L479.20 87.74 L479.41 87.79 L479.63 87.84 L479.84 87.89 L480.06 87.94 L480.28 87.99 L480.49 88.04 L480.71 88.08 L480.92 88.12 L481.14 88.16 L481.36 88.20 L481.57 88.24 L481.79 88.28 L482.00 88.31 L482.22 88.35 L482.43 88.38 L482.65 88.41 L482.87 88.45 L483.08 88.48 L483.30 88.51 L483.51 88.53 L483.73 88.56 L483.94 88.59 L484.16 88.62 L484.38 88.64 L484.59 88.67 L484.81 88.69 L485.02 88.72 L485.24 88.74 L485.45 88.76 L485.67 88.78 L485.89 88.81 L486.10 88.83 L486.32 88.85 L486.53 88.87 L486.75 88.89 L486.96 88.91 L487.18 88.93 L487.40 88.94 L487.61 88.96 L487.83 88.98 L488.04 89.00 L488.26 89.01 L488.47 89.03 L488.69 89.05 L488.91 89.06 L489.12 89.08 L489.34 89.09 L489.55 89.11 L489.77 89.12 L489.98 89.14 L490.20 89.15 L491.74 89.22 L493.27 89.28 L494.81 89.34 L496.34 89.39 L497.88 89.44 L499.42 89.48 L500.95 89.52 L502.49 89.56 L504.02 89.60 L505.56 89.64 L507.10 89.68 L508.63 89.73 L510.17 89.77 L511.70 89.82 L513.24 89.88 L514.78 89.93 L516.31 89.98 L517.85 90.04 L519.38 90.09 L520.92 90.14 L522.46 90.18 L523.99 90.22 L525.53 90.26 L527.06 90.28 L528.60 90.30 L530.14 90.31 L531.67 90.32 L533.21 90.33 L534.74 90.34 L536.28 90.35 L537.82 90.36 L539.35 90.36 L540.89 90.37 L542.42 90.38 L543.96 90.38 L545.50 90.39 L547.03 90.40 L548.57 90.40 L550.10 90.41 L551.64 90.42 L553.18 90.43 L554.71 90.44 L556.25 90.44 L557.78 90.45 L559.32 90.46 L560.86 90.47 L562.39 90.48 L563.93 90.48 L565.46 90.49 L567.00 90.50" fill="none" stroke="#000" stroke-width="2.08" stroke-linecap="square"/>
<circle cx="471.00" cy="79.20" r="3.47" fill="#a0655a" stroke="#000" stroke-width="1.39"/>
<circle cx="490.20" cy="89.15" r="3.47" fill="#a0655a" stroke="#000" stroke-width="1.39"/>
<circle cx="509.40" cy="89.75" r="3.47" fill="#a0655a" stroke="#000" stroke-width="1.39"/>
<circle cx="528.60" cy="90.30" r="3.47" fill="#a0655a" stroke="#000" stroke-width="1.39"/>
<circle cx="547.80" cy="90.40" r="3.47" fill="#a0655a" stroke="#000" stroke-width="1.39"/>
<circle cx="567.00" cy="90.50" r="3.47" fill="#a0655a" stroke="#000" stroke-width="1.39"/>
<path d="M471.00 95.1 v4.55 M495.00 95.1 v4.55 M519.00 95.1 v4.55 M543.00 95.1 v4.55 M567.00 95.1 v4.55 M466.2 90.55 h-4.55 M466.2 76.37 h-4.55 M466.2 62.19 h-4.55 M466.2 48.01 h-4.55 M466.2 33.83 h-4.55 M466.2 19.65 h-4.55 M466.2 5.47 h-4.55" stroke="#000" stroke-width="1.1" fill="none"/>
<rect x="466.2" y="1.65" width="105.10" height="93.45" fill="none" stroke="#000" stroke-width="1.2"/>
<text x="480.30" y="19.75" font-size="11.8" text-anchor="start" style="white-space:pre">(c)   NaCl (8,6)</text>
<clipPath id="cd"><rect x="324.55" y="129.3" width="105.55" height="93.75"/></clipPath>
<path d="M329.40 129.3 V223.05 M353.40 129.3 V223.05 M377.40 129.3 V223.05 M401.40 129.3 V223.05 M425.40 129.3 V223.05 M324.55 217.75 H430.1 M324.55 203.57 H430.1 M324.55 189.39 H430.1 M324.55 175.21 H430.1 M324.55 161.03 H430.1 M324.55 146.85 H430.1 M324.55 132.67 H430.1"  stroke="#efefef" stroke-width="1.0" fill="none"/>
<path d="M329.40 161.30 L329.62 162.74 L329.83 164.11 L330.05 165.41 L330.26 166.65 L330.48 167.83 L330.69 168.96 L330.91 170.04 L331.13 171.08 L331.34 172.07 L331.56 173.01 L331.77 173.92 L331.99 174.80 L332.20 175.64 L332.42 176.44 L332.64 177.22 L332.85 177.97 L333.07 178.69 L333.28 179.38 L333.50 180.05 L333.71 180.70 L333.93 181.33 L334.15 181.93 L334.36 182.52 L334.58 183.08 L334.79 183.63 L335.01 184.16 L335.22 184.68 L335.44 185.18 L335.66 185.66 L335.87 186.13 L336.09 186.59 L336.30 187.04 L336.52 187.47 L336.73 187.89 L336.95 188.29 L337.17 188.69 L337.38 189.08 L337.60 189.45 L337.81 189.82 L338.03 190.18 L338.24 190.53 L338.46 190.87 L338.68 191.20 L338.89 191.52 L339.11 191.84 L339.32 192.14 L339.54 192.44 L339.76 192.74 L339.97 193.02 L340.19 193.30 L340.40 193.58 L340.62 193.85 L340.83 194.11 L341.05 194.36 L341.27 194.62 L341.48 194.86 L341.70 195.10 L341.91 195.34 L342.13 195.57 L342.34 195.79 L342.56 196.02 L342.78 196.23 L342.99 196.44 L343.21 196.65 L343.42 196.86 L343.64 197.06 L343.85 197.26 L344.07 197.45 L344.29 197.64 L344.50 197.82 L344.72 198.01 L344.93 198.18 L345.15 198.36 L345.36 198.53 L345.58 198.70 L345.80 198.87 L346.01 199.03 L346.23 199.20 L346.44 199.35 L346.66 199.51 L346.87 199.66 L347.09 199.81 L347.31 199.96 L347.52 200.11 L347.74 200.25 L347.95 200.39 L348.17 200.53 L348.38 200.67 L348.60 200.80 L350.14 201.46 L351.67 202.08 L353.21 202.64 L354.74 203.16 L356.28 203.64 L357.82 204.09 L359.35 204.50 L360.89 204.89 L362.42 205.25 L363.96 205.59 L365.50 205.92 L367.03 206.24 L368.57 206.56 L370.10 206.86 L371.64 207.15 L373.18 207.43 L374.71 207.70 L376.25 207.96 L377.78 208.21 L379.32 208.44 L380.86 208.66 L382.39 208.87 L383.93 209.06 L385.46 209.24 L387.00 209.40 L388.54 209.55 L390.07 209.69 L391.61 209.82 L393.14 209.95 L394.68 210.07 L396.22 210.18 L397.75 210.29 L399.29 210.39 L400.82 210.49 L402.36 210.58 L403.90 210.67 L405.43 210.76 L406.97 210.84 L408.50 210.92 L410.04 211.01 L411.58 211.08 L413.11 211.16 L414.65 211.23 L416.18 211.30 L417.72 211.37 L419.26 211.43 L420.79 211.49 L422.33 211.55 L423.86 211.60 L425.40 211.65" fill="none" stroke="#000" stroke-width="2.08" stroke-linecap="square"/>
<circle cx="329.40" cy="161.30" r="3.47" fill="#90ee90" stroke="#000" stroke-width="1.39"/>
<circle cx="348.60" cy="200.80" r="3.47" fill="#90ee90" stroke="#000" stroke-width="1.39"/>
<circle cx="367.80" cy="206.40" r="3.47" fill="#90ee90" stroke="#000" stroke-width="1.39"/>
<circle cx="387.00" cy="209.40" r="3.47" fill="#90ee90" stroke="#000" stroke-width="1.39"/>
<circle cx="406.20" cy="210.80" r="3.47" fill="#90ee90" stroke="#000" stroke-width="1.39"/>
<circle cx="425.40" cy="211.65" r="3.47" fill="#90ee90" stroke="#000" stroke-width="1.39"/>
<path d="M329.40 223.05 v4.55 M353.40 223.05 v4.55 M377.40 223.05 v4.55 M401.40 223.05 v4.55 M425.40 223.05 v4.55 M324.55 217.75 h-4.55 M324.55 203.57 h-4.55 M324.55 189.39 h-4.55 M324.55 175.21 h-4.55 M324.55 161.03 h-4.55 M324.55 146.85 h-4.55 M324.55 132.67 h-4.55" stroke="#000" stroke-width="1.1" fill="none"/>
<rect x="324.55" y="129.3" width="105.55" height="93.75" fill="none" stroke="#000" stroke-width="1.2"/>
<text x="315.95" y="222.05" font-size="11.57" text-anchor="end" >0</text>
<text x="315.95" y="207.87" font-size="11.57" text-anchor="end" >2</text>
<text x="315.95" y="193.69" font-size="11.57" text-anchor="end" >4</text>
<text x="315.95" y="179.51" font-size="11.57" text-anchor="end" >6</text>
<text x="315.95" y="165.33" font-size="11.57" text-anchor="end" >8</text>
<text x="315.95" y="151.15" font-size="11.57" text-anchor="end" >10</text>
<text x="315.95" y="136.97" font-size="11.57" text-anchor="end" >12</text>
<text x="329.40" y="240.95" font-size="11.57" text-anchor="middle" >0.0</text>
<text x="377.40" y="240.95" font-size="11.57" text-anchor="middle" >0.25</text>
<text x="425.40" y="240.95" font-size="11.57" text-anchor="middle" >0.5</text>
<text x="338.65" y="147.40" font-size="11.8" text-anchor="start" style="white-space:pre">(d)   Li<tspan font-size="8.1" dy="1.3" dx="0.3">2</tspan><tspan dy="-1.3" dx="0.6"> (2,8)</tspan></text>
<clipPath id="ce"><rect x="466.2" y="129.3" width="105.10" height="93.75"/></clipPath>
<path d="M471.00 129.3 V223.05 M495.00 129.3 V223.05 M519.00 129.3 V223.05 M543.00 129.3 V223.05 M567.00 129.3 V223.05 M466.2 217.75 H571.3 M466.2 203.57 H571.3 M466.2 189.39 H571.3 M466.2 175.21 H571.3 M466.2 161.03 H571.3 M466.2 146.85 H571.3 M466.2 132.67 H571.3"  stroke="#efefef" stroke-width="1.0" fill="none"/>
<path d="M471.00 168.30 L471.11 191.64 L471.22 199.38 L471.32 202.76 L471.43 204.59 L471.54 205.81 L471.65 206.70 L471.76 207.42 L471.86 208.06 L471.97 208.66 L472.08 209.24 L472.19 209.75 L472.29 210.19 L472.40 210.58 L472.51 210.94 L472.62 211.27 L472.73 211.57 L472.83 211.85 L472.94 212.12 L473.05 212.36 L473.16 212.60 L473.27 212.83 L473.37 213.05 L473.48 213.25 L473.59 213.45 L473.70 213.63 L473.80 213.80 L473.91 213.96 L474.02 214.12 L474.13 214.26 L474.24 214.40 L474.34 214.53 L474.45 214.65 L474.56 214.77 L474.67 214.88 L474.78 214.99 L474.88 215.09 L474.99 215.19 L475.10 215.28 L475.21 215.37 L475.31 215.46 L475.42 215.54 L475.53 215.62 L475.64 215.69 L475.75 215.77 L475.85 215.83 L475.96 215.90 L476.07 215.97 L476.18 216.03 L476.29 216.09 L476.39 216.15 L476.50 216.21 L476.61 216.26 L476.72 216.31 L476.82 216.36 L476.93 216.41 L477.04 216.45 L477.15 216.50 L477.26 216.54 L477.36 216.58 L477.47 216.62 L477.58 216.66 L477.69 216.69 L477.80 216.72 L477.90 216.76 L478.01 216.79 L478.12 216.82 L478.23 216.85 L478.33 216.87 L478.44 216.90 L478.55 216.92 L478.66 216.95 L478.77 216.97 L478.87 216.99 L478.98 217.01 L479.09 217.03 L479.20 217.05 L479.31 217.07 L479.41 217.09 L479.52 217.11 L479.63 217.13 L479.74 217.14 L479.84 217.16 L479.95 217.17 L480.06 217.19 L480.17 217.20 L480.28 217.21 L480.38 217.23 L480.49 217.24 L480.60 217.25 L481.46 217.25 L482.33 217.25 L483.19 217.25 L484.06 217.25 L484.92 217.25 L485.78 217.25 L486.65 217.25 L487.51 217.25 L488.38 217.25 L489.24 217.25 L490.10 217.25 L490.97 217.25 L491.83 217.25 L492.70 217.25 L493.56 217.25 L494.42 217.25 L495.29 217.25 L496.15 217.25 L497.02 217.25 L497.88 217.25 L498.74 217.25 L499.61 217.25 L500.47 217.25 L501.34 217.25 L502.20 217.25 L503.06 217.25 L503.93 217.25 L504.79 217.25 L505.66 217.25 L506.52 217.25 L507.38 217.25 L508.25 217.25 L509.11 217.25 L509.98 217.25 L510.84 217.25 L511.70 217.25 L512.57 217.25 L513.43 217.25 L514.30 217.25 L515.16 217.25 L516.02 217.25 L516.89 217.25 L517.75 217.25 L518.62 217.25 L519.48 217.25 L520.34 217.25 L521.21 217.25 L522.07 217.25 L522.94 217.25 L523.80 217.25 L524.66 217.25 L525.53 217.25 L526.39 217.25 L527.26 217.25 L528.12 217.25 L528.98 217.25 L529.85 217.25 L530.71 217.25 L531.58 217.25 L532.44 217.25 L533.30 217.25 L534.17 217.25 L535.03 217.25 L535.90 217.25 L536.76 217.25 L537.62 217.25 L538.49 217.25 L539.35 217.25 L540.22 217.25 L541.08 217.25 L541.94 217.25 L542.81 217.25 L543.67 217.25 L544.54 217.25 L545.40 217.25 L546.26 217.25 L547.13 217.25 L547.99 217.25 L548.86 217.25 L549.72 217.25 L550.58 217.25 L551.45 217.25 L552.31 217.25 L553.18 217.25 L554.04 217.25 L554.90 217.25 L555.77 217.25 L556.63 217.25 L557.50 217.25 L558.36 217.25 L559.22 217.25 L560.09 217.25 L560.95 217.25 L561.82 217.25 L562.68 217.25 L563.54 217.25 L564.41 217.25 L565.27 217.25 L566.14 217.25 L567.00 217.25" fill="none" stroke="#000" stroke-width="2.08" stroke-linecap="square"/>
<circle cx="471.00" cy="168.30" r="3.47" fill="#ffd700" stroke="#000" stroke-width="1.39"/>
<circle cx="480.60" cy="217.25" r="3.47" fill="#ffd700" stroke="#000" stroke-width="1.39"/>
<circle cx="490.20" cy="217.25" r="3.47" fill="#ffd700" stroke="#000" stroke-width="1.39"/>
<circle cx="499.80" cy="217.25" r="3.47" fill="#ffd700" stroke="#000" stroke-width="1.39"/>
<circle cx="509.40" cy="217.25" r="3.47" fill="#ffd700" stroke="#000" stroke-width="1.39"/>
<circle cx="519.00" cy="217.25" r="3.47" fill="#ffd700" stroke="#000" stroke-width="1.39"/>
<circle cx="528.60" cy="217.25" r="3.47" fill="#ffd700" stroke="#000" stroke-width="1.39"/>
<circle cx="538.20" cy="217.25" r="3.47" fill="#ffd700" stroke="#000" stroke-width="1.39"/>
<circle cx="547.80" cy="217.25" r="3.47" fill="#ffd700" stroke="#000" stroke-width="1.39"/>
<circle cx="557.40" cy="217.25" r="3.47" fill="#ffd700" stroke="#000" stroke-width="1.39"/>
<circle cx="567.00" cy="217.25" r="3.47" fill="#ffd700" stroke="#000" stroke-width="1.39"/>
<path d="M471.00 223.05 v4.55 M495.00 223.05 v4.55 M519.00 223.05 v4.55 M543.00 223.05 v4.55 M567.00 223.05 v4.55 M466.2 217.75 h-4.55 M466.2 203.57 h-4.55 M466.2 189.39 h-4.55 M466.2 175.21 h-4.55 M466.2 161.03 h-4.55 M466.2 146.85 h-4.55 M466.2 132.67 h-4.55" stroke="#000" stroke-width="1.1" fill="none"/>
<rect x="466.2" y="129.3" width="105.10" height="93.75" fill="none" stroke="#000" stroke-width="1.2"/>
<text x="471.00" y="240.95" font-size="11.57" text-anchor="middle" >0.0</text>
<text x="519.00" y="240.95" font-size="11.57" text-anchor="middle" >0.25</text>
<text x="567.00" y="240.95" font-size="11.57" text-anchor="middle" >0.5</text>
<text x="480.30" y="147.40" font-size="11.8" text-anchor="start" style="white-space:pre">(e)   HCN (6,6)</text>
</svg>
</body></html>
